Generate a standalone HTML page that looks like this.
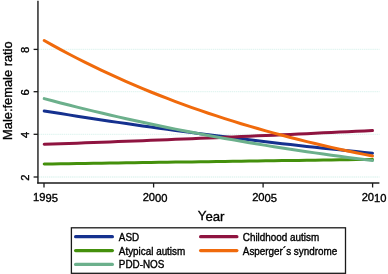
<!DOCTYPE html>
<html><head><meta charset="utf-8"><title>Male:female ratio</title>
<style>
html,body{margin:0;padding:0;background:#fff;}
svg{display:block;font-family:"Liberation Sans",sans-serif;}
</style></head><body>
<svg width="388" height="274" viewBox="0 0 388 274">
<rect width="388" height="274" fill="#fff"/>
<g stroke="#e2f5f1" stroke-width="1.3" stroke-dasharray="1.4 0.7">
<line x1="38.5" x2="379.6" y1="49.4" y2="49.4"/>
<line x1="38.5" x2="379.6" y1="91.7" y2="91.7"/>
<line x1="38.5" x2="379.6" y1="134.3" y2="134.3"/>
<line x1="38.5" x2="379.6" y1="177" y2="177"/>
</g>
<g fill="none" stroke-width="3.0" stroke-linecap="round" stroke-linejoin="round">
<path d="M44.20 110.90 L52.41 112.24 L60.62 113.57 L68.82 114.88 L77.03 116.17 L85.24 117.44 L93.44 118.70 L101.65 119.95 L109.86 121.18 L118.07 122.39 L126.28 123.59 L134.48 124.77 L142.69 125.94 L150.90 127.09 L159.11 128.23 L167.31 129.35 L175.52 130.46 L183.73 131.55 L191.94 132.63 L200.14 133.70 L208.35 134.75 L216.56 135.79 L224.77 136.82 L232.97 137.83 L241.18 138.84 L249.39 139.82 L257.60 140.80 L265.80 141.76 L274.01 142.71 L282.22 143.65 L290.43 144.58 L298.63 145.49 L306.84 146.39 L315.05 147.28 L323.25 148.16 L331.46 149.03 L339.67 149.88 L347.88 150.73 L356.08 151.56 L364.29 152.39 L372.50 153.20" stroke="#15318f"/>
<path d="M44.20 144.30 L52.41 144.01 L60.62 143.72 L68.82 143.43 L77.03 143.13 L85.24 142.83 L93.44 142.53 L101.65 142.22 L109.86 141.92 L118.07 141.60 L126.28 141.29 L134.48 140.97 L142.69 140.65 L150.90 140.33 L159.11 140.01 L167.31 139.68 L175.52 139.35 L183.73 139.01 L191.94 138.67 L200.14 138.33 L208.35 137.99 L216.56 137.65 L224.77 137.30 L232.97 136.94 L241.18 136.59 L249.39 136.23 L257.60 135.87 L265.80 135.51 L274.01 135.14 L282.22 134.77 L290.43 134.40 L298.63 134.02 L306.84 133.64 L315.05 133.26 L323.25 132.87 L331.46 132.49 L339.67 132.10 L347.88 131.70 L356.08 131.30 L364.29 130.90 L372.50 130.50" stroke="#8f1440"/>
<path d="M44.20 164.00 L52.41 163.88 L60.62 163.76 L68.82 163.64 L77.03 163.52 L85.24 163.40 L93.44 163.28 L101.65 163.16 L109.86 163.05 L118.07 162.93 L126.28 162.81 L134.48 162.69 L142.69 162.57 L150.90 162.46 L159.11 162.34 L167.31 162.22 L175.52 162.11 L183.73 161.99 L191.94 161.88 L200.14 161.76 L208.35 161.65 L216.56 161.53 L224.77 161.42 L232.97 161.30 L241.18 161.19 L249.39 161.07 L257.60 160.96 L265.80 160.85 L274.01 160.73 L282.22 160.62 L290.43 160.51 L298.63 160.40 L306.84 160.29 L315.05 160.17 L323.25 160.06 L331.46 159.95 L339.67 159.84 L347.88 159.73 L356.08 159.62 L364.29 159.51 L372.50 159.40" stroke="#44900c"/>
<path d="M44.20 40.50 L52.41 45.11 L60.62 49.61 L68.82 53.98 L77.03 58.25 L85.24 62.40 L93.44 66.45 L101.65 70.39 L109.86 74.23 L118.07 77.97 L126.28 81.61 L134.48 85.16 L142.69 88.62 L150.90 91.99 L159.11 95.26 L167.31 98.46 L175.52 101.57 L183.73 104.60 L191.94 107.55 L200.14 110.42 L208.35 113.22 L216.56 115.95 L224.77 118.60 L232.97 121.19 L241.18 123.70 L249.39 126.15 L257.60 128.54 L265.80 130.86 L274.01 133.12 L282.22 135.32 L290.43 137.47 L298.63 139.55 L306.84 141.59 L315.05 143.56 L323.25 145.49 L331.46 147.36 L339.67 149.18 L347.88 150.96 L356.08 152.68 L364.29 154.37 L372.50 156.00" stroke="#f06a0c"/>
<path d="M44.20 98.60 L52.41 100.79 L60.62 102.93 L68.82 105.04 L77.03 107.10 L85.24 109.13 L93.44 111.13 L101.65 113.08 L109.86 115.00 L118.07 116.88 L126.28 118.73 L134.48 120.55 L142.69 122.33 L150.90 124.08 L159.11 125.79 L167.31 127.48 L175.52 129.13 L183.73 130.75 L191.94 132.34 L200.14 133.90 L208.35 135.43 L216.56 136.93 L224.77 138.41 L232.97 139.85 L241.18 141.27 L249.39 142.66 L257.60 144.03 L265.80 145.37 L274.01 146.68 L282.22 147.97 L290.43 149.24 L298.63 150.48 L306.84 151.69 L315.05 152.88 L323.25 154.05 L331.46 155.20 L339.67 156.32 L347.88 157.42 L356.08 158.50 L364.29 159.56 L372.50 160.60" stroke="#6cb08c"/>
</g>
<g stroke="#1a1a1a" stroke-width="1.3" fill="none">
<line x1="37.95" x2="37.95" y1="0.8" y2="183.4" stroke-width="1.4"/>
<line x1="37.2" x2="379.4" y1="183" y2="183"/>
<line x1="33.6" x2="38" y1="49.4" y2="49.4"/>
<line x1="33.6" x2="38" y1="91.7" y2="91.7"/>
<line x1="33.6" x2="38" y1="134.3" y2="134.3"/>
<line x1="33.6" x2="38" y1="177" y2="177"/>
<line x1="44" x2="44" y1="183" y2="187.5"/>
<line x1="153.6" x2="153.6" y1="183" y2="187.5"/>
<line x1="263.1" x2="263.1" y1="183" y2="187.5"/>
<line x1="372.6" x2="372.6" y1="183" y2="187.5"/>
</g>
<g font-size="11.2px" fill="#000" stroke="#000" stroke-width="0.35">
<text x="45.5" y="201.5" text-anchor="middle" transform="rotate(0.02 44 201)">1995</text>
<text x="155.1" y="201.5" text-anchor="middle" transform="rotate(0.02 153.6 201)">2000</text>
<text x="264.6" y="201.5" text-anchor="middle" transform="rotate(0.02 263.1 201)">2005</text>
<text x="374.1" y="201.5" text-anchor="middle" transform="rotate(0.02 372.6 201)">2010</text>
<text transform="translate(29.3 50.0) rotate(-90)" text-anchor="middle">8</text>
<text transform="translate(29.3 92.3) rotate(-90)" text-anchor="middle">6</text>
<text transform="translate(29.3 134.9) rotate(-90)" text-anchor="middle">4</text>
<text transform="translate(29.3 177.6) rotate(-90)" text-anchor="middle">2</text>
</g>
<text transform="translate(11.8 139.9) rotate(-90)" font-size="12.85px" fill="#000" stroke="#000" stroke-width="0.35">Male:female ratio</text>
<text x="197.8" y="220.5" font-size="13.2px" fill="#000" stroke="#000" stroke-width="0.35" transform="rotate(0.02 198 220)">Year</text>
<rect x="71.4" y="227.8" width="274.1" height="45.5" fill="#fff" stroke="#1a1a1a" stroke-width="1.3"/>
<g fill="none" stroke-width="3.2" stroke-linecap="round">
<line x1="75.6" x2="112.4" y1="236.7" y2="236.7" stroke="#15318f"/>
<line x1="75.6" x2="112.4" y1="250.6" y2="250.6" stroke="#44900c"/>
<line x1="75.6" x2="112.4" y1="264.4" y2="264.4" stroke="#6cb08c"/>
<line x1="200.6" x2="236.9" y1="236.7" y2="236.7" stroke="#8f1440"/>
<line x1="200.6" x2="236.9" y1="250.6" y2="250.6" stroke="#f06a0c"/>
</g>
<g font-size="9.9px" fill="#000" stroke="#000" stroke-width="0.35">
<text transform="translate(118.8 240.8) rotate(0.02) scale(1 1.04)">ASD</text>
<text transform="translate(118.8 254.7) rotate(0.02) scale(1 1.04)">Atypical autism</text>
<text transform="translate(118.8 267.9) rotate(0.02) scale(1 1.04)">PDD-NOS</text>
<text transform="translate(242.8 240.8) rotate(0.02) scale(1 1.04)">Childhood autism</text>
<text transform="translate(242.8 254.7) rotate(0.02) scale(1 1.04)">Asperger´s syndrome</text>
</g>
</svg>
</body></html>
